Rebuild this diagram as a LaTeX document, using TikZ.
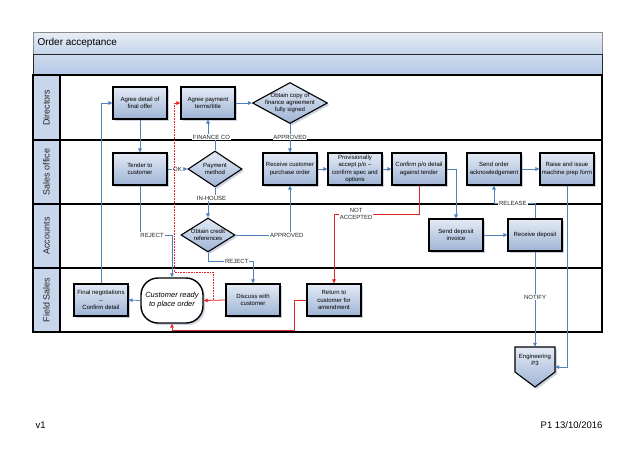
\documentclass[tikz,border=0pt]{standalone}
\usepackage{fontspec}
\setmainfont{Liberation Sans}
\usetikzlibrary{shapes.geometric,arrows.meta,shadows,calc}
\definecolor{flowblue}{RGB}{79,129,189}
\definecolor{flowred}{RGB}{228,38,38}
\definecolor{boxtop}{RGB}{228,234,245}
\definecolor{boxbot}{RGB}{158,180,213}
\definecolor{shadowc}{RGB}{190,200,215}
\definecolor{titletop}{RGB}{232,238,247}
\definecolor{titlebot}{RGB}{196,212,234}
\definecolor{bartop}{RGB}{205,218,238}
\definecolor{barbot}{RGB}{180,200,230}
\definecolor{lanefill}{RGB}{200,214,235}
\newcommand\zw[1]{\makebox[0pt]{#1}}
\begin{document}
\begin{tikzpicture}[x=1pt,y=-1pt,
  boxnode/.style={draw=black, line width=1.1pt, top color=boxtop, bottom color=boxbot,
    minimum width=54pt, minimum height=32pt, inner sep=1pt, align=center,
    font=\fontsize{6}{7.2}\selectfont,
    drop shadow={shadow xshift=2pt,shadow yshift=-2pt,fill=shadowc,opacity=0.8}},
  dianode/.style={diamond, draw=black, line width=1.1pt, top color=boxtop, bottom color=boxbot,
    inner sep=0pt, align=center, font=\fontsize{6}{7.2}\selectfont,
    drop shadow={shadow xshift=2pt,shadow yshift=-2pt,fill=shadowc,opacity=0.8}},
  flow/.style={draw=flowblue, line width=0.8pt, -{Triangle[length=4pt,width=3.6pt]}},
  rflow/.style={draw=flowred, line width=0.8pt, -{Triangle[length=4pt,width=3.6pt]}},
  lbl/.style={fill=white, inner sep=0.8pt, font=\fontsize{6}{7}\selectfont, text=black!85},
  lanelbl/.style={rotate=90, font=\fontsize{9}{10}\selectfont, text=black!85}
]
\useasboundingbox (0,0) rectangle (638,451);
% frame
\draw[draw=black!45, line width=0.6pt, top color=titletop, bottom color=titlebot] (33,32) rectangle (602,54);
\node[anchor=west, font=\fontsize{10}{12}\selectfont] (title) at (34,43) {Order acceptance};
\draw[draw=black!85, line width=1pt, top color=bartop, bottom color=barbot] (33,54) rectangle (602,75);
\fill[lanefill] (33,75) rectangle (60,332);
\draw[line width=1.2pt] (33,75) rectangle (602,332);
\draw[line width=1.2pt] (60,75) -- (60,332);
\draw[line width=1.2pt] (33,140) -- (602,140);
\draw[line width=1.2pt] (33,204) -- (602,204);
\draw[line width=1.2pt] (33,268) -- (602,268);
\node[lanelbl] (lDir) at (46.5,107.5) {Directors};
\node[lanelbl] (lSal) at (46.5,172) {Sales office};
\node[lanelbl] (lAcc) at (46.5,236) {Accounts};
\node[lanelbl] (lFie) at (46.5,300) {Field Sales};

% nodes
\node[boxnode] (ad) at (140,103) {Agree detail of\\final offer};
\node[boxnode] (ap) at (208,103) {Agree payment\\terms/title};
\node[dianode, minimum width=75pt, minimum height=41pt] (oc) at (290,103) {\zw{Obtain copy of}\\\zw{finance agreement}\\\zw{fully signed}};
\node[boxnode] (tc) at (140,169) {Tender to\\customer};
\node[dianode, minimum width=54pt, minimum height=36pt] (pm) at (215,169) {\zw{Payment}\\\zw{method}};
\node[boxnode] (rc) at (290,169) {Receive customer\\purchase order};
\node[boxnode] (pa) at (355,169) {Provisionally\\accept p/o --\\confirm spec and\\options};
\node[boxnode] (cp) at (419,169) {Confirm p/o detail\\against tender};
\node[boxnode] (so) at (494,169) {Send order\\acknowledgement};
\node[boxnode] (rm) at (567,169) {Raise and issue\\machine prep form};
\node[dianode, minimum width=54pt, minimum height=34pt] (cr) at (208,235) {\zw{Obtain credit}\\\zw{references}};
\node[boxnode] (di) at (456,235) {Send deposit\\invoice};
\node[boxnode] (rd) at (535,235) {Receive deposit};
\node[boxnode] (fn) at (101,300) {Final negotiations\\--\\Confirm detail};
\node[draw=black, line width=1.4pt, fill=white, rounded corners=17pt, minimum width=62pt, minimum height=45pt,
  align=center, font=\itshape\fontsize{7.5}{9}\selectfont,
  drop shadow={shadow xshift=2pt,shadow yshift=-2pt,fill=shadowc,opacity=0.8}] (cu) at (172,300.5) {Customer ready\\to place order};
\node[boxnode] (dc) at (253,300) {Discuss with\\customer};
\node[boxnode] (rt) at (334,300) {Return to\\customer for\\amendment};
% engineering pentagon
\path[draw=black, line width=1.1pt, top color=boxtop, bottom color=boxbot,
  drop shadow={shadow xshift=2pt,shadow yshift=-2pt,fill=shadowc,opacity=0.8}]
  (515,347) -- (555,347) -- (555,372) -- (535,387) -- (515,372) -- cycle;
\node[minimum width=40pt, minimum height=25pt, inner sep=0pt, align=center, font=\fontsize{6}{7.2}\selectfont] (eng) at (535,359.5) {Engineering\\P3};

% connectors
\draw[flow] (fn.north) |- (ad.west);
\draw[flow] (ad.south) -- (tc.north);
\coordinate (rj1) at (172,235);
\draw[flow] (tc.south) |- node[lbl, pos=0.69]{REJECT} (rj1) -- (cu.north);
\draw[flow] (tc.east) -- node[lbl]{OK} (pm.west);
\coordinate (fA) at (215,137);
\coordinate (fB) at (208,137);
\draw[flow] (pm.north) -- (fA) -- node[lbl]{FINANCE CO} (fB) -- (ap.south);
\draw[flow] (ap.east) -- (oc.west);
\draw[flow] (oc.south) -- node[lbl, pos=0.47]{APPROVED} (rc.north);
\coordinate (hA) at (215,198);
\coordinate (hB) at (208,198);
\draw[flow] (pm.south) -- (hA) -- node[lbl]{IN-HOUSE} (hB) -- (cr.north);
\draw[flow] (cr.east) -| node[lbl, pos=0.47]{APPROVED} (rc.south);
\coordinate (rj2) at (208,261);
\draw[flow] (cr.south) -- (rj2) -| node[lbl, pos=0.32]{REJECT} (dc.north);
\draw[flow] (rc.east) -- (pa.west);
\draw[flow] (pa.east) -- (cp.west);
\draw[flow] (cp.east) -| (di.north);
\coordinate (na) at (419,214);
\draw[rflow] (cp.south) -- (na) -| node[lbl, pos=0.37, align=center, font=\fontsize{6}{6.8}\selectfont]{NOT\\ACCEPTED} (rt.north);
\draw[flow] (di.east) -- (rd.west);
\coordinate (rl) at (535,203);
\draw[flow] (rd.north) -- (rl) -| node[lbl, pos=0.27]{RELEASE} (so.south);
\draw[flow] (so.east) -- (rm.west);
\draw[flow] (rm.south) |- ([yshift=-7.5pt]eng.east);
\draw[flow] (rd.south) -- node[lbl, pos=0.48]{NOTIFY} (eng.north);
\draw[rflow] (dc.west) -- (cu.east);
\coordinate (ra) at (294,330);
\draw[rflow] (rt.west) -| (ra) -| (cu.south);
\draw[flow] (cu.west) -- (fn.east);
\coordinate (d0) at (213,300);
\coordinate (d1) at (213,272);
\coordinate (d2) at (174,272);
\draw[draw=flowred, line width=0.6pt, densely dotted, -{Triangle[length=4pt,width=3.6pt]}] (d0) -- (d1) -- (d2) |- (ap.west);

% footer
\node[anchor=west, font=\fontsize{9.5}{11}\selectfont] (v1) at (32,425) {v1};
\node[anchor=east, font=\fontsize{9.5}{11}\selectfont] (p1) at (606,425) {P1 13/10/2016};
\end{tikzpicture}
\end{document}
